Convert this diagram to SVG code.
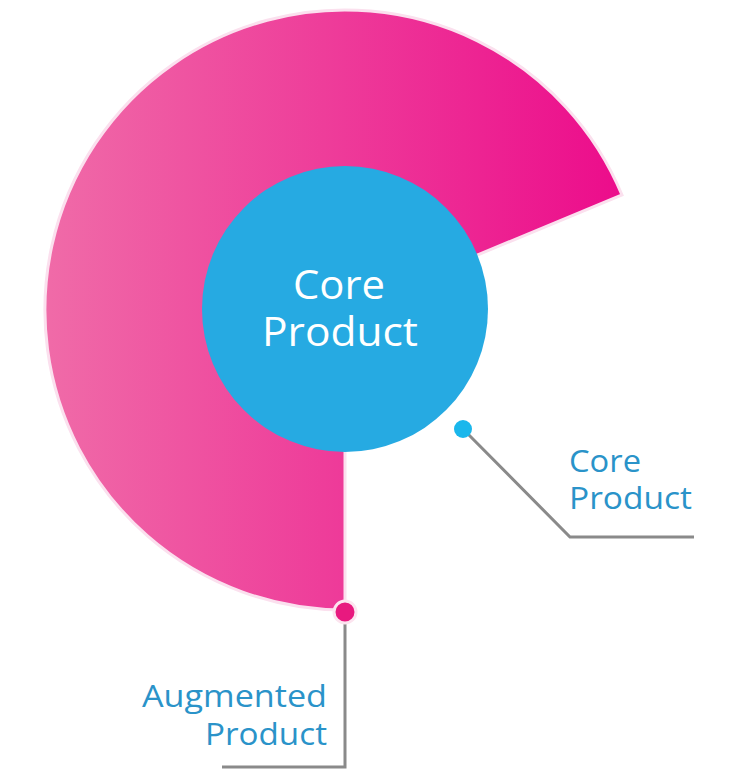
<svg xmlns="http://www.w3.org/2000/svg" width="730" height="776" viewBox="0 0 730 776">
<style>
.lbl{font-family:"Open Sans","Liberation Sans",sans-serif;font-size:31px;fill:#2a93c9}
.core{font-family:"Open Sans","Liberation Sans",sans-serif;font-size:40px;fill:#fff}
.ln{fill:none;stroke:#8a8a8a;stroke-width:3}
</style>
<defs>
<linearGradient id="g" x1="45" y1="0" x2="622" y2="0" gradientUnits="userSpaceOnUse">
<stop offset="0" stop-color="#f06ba8"/><stop offset="1" stop-color="#ec0c8b"/>
</linearGradient>
</defs>
<g id="augmented">
<path d="M345 310 L345 610 A300 300 0 1 1 622 195 Z" fill="url(#g)" stroke="#fbe0ee" stroke-width="3"/>
</g>
<g id="core">
<circle cx="345" cy="309" r="143" fill="#26aae2"/>
<text class="core" x="293" y="299" textLength="92" lengthAdjust="spacingAndGlyphs">Core</text>
<text class="core" x="262" y="346" textLength="156" lengthAdjust="spacingAndGlyphs">Product</text>
</g>
<g id="connectors">
<polyline class="ln" points="463,429 570,537 694,537"/>
<polyline class="ln" points="345,612 345,767 222,767"/>
<circle cx="463" cy="429" r="9" fill="#1ab7ec"/>
<circle cx="345" cy="612" r="11" fill="#e8197f" stroke="#fce4ef" stroke-width="3"/>
</g>
<g id="label-core">
<text class="lbl" x="569" y="472" textLength="72" lengthAdjust="spacingAndGlyphs">Core</text>
<text class="lbl" x="569" y="509" textLength="123" lengthAdjust="spacingAndGlyphs">Product</text>
</g>
<g id="label-augmented">
<text class="lbl" x="142" y="707" textLength="185" lengthAdjust="spacingAndGlyphs">Augmented</text>
<text class="lbl" x="205" y="745" textLength="122" lengthAdjust="spacingAndGlyphs">Product</text>
</g>
</svg>
